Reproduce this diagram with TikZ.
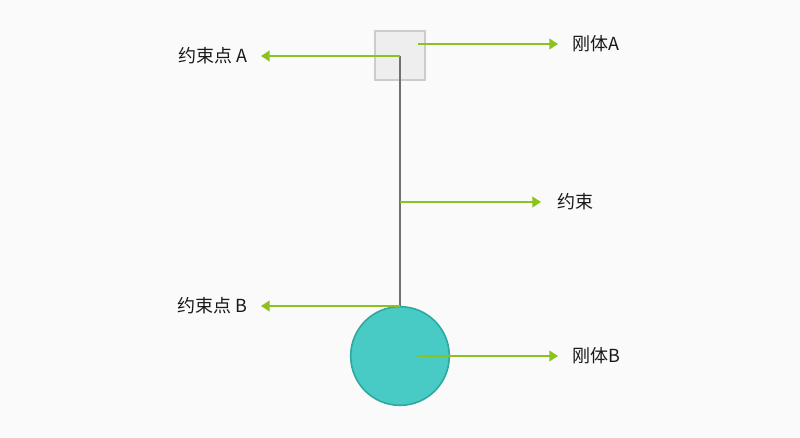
\documentclass[tikz,border=0pt]{standalone}
\usepackage{fontspec}
\setmainfont{Noto Sans CJK SC}
\usetikzlibrary{arrows.meta}
\definecolor{bgGray}{HTML}{FAFAFA}
\definecolor{boxFill}{HTML}{EEEEEE}
\definecolor{boxLine}{HTML}{CCCCCC}
\definecolor{rodGray}{HTML}{707070}
\definecolor{ballFill}{HTML}{48CBC4}
\definecolor{ballLine}{HTML}{2FA89F}
\definecolor{pointer}{HTML}{8CC21E}
\tikzset{
    pointer/.style={draw=pointer, line width=1.5pt, -{Triangle[length=6.5pt,width=8pt]}},
    tag/.style={font=\fontsize{13.5}{15}\selectfont, inner sep=0pt, text=black!90}
}
\begin{document}
\begin{tikzpicture}[x=0.75pt, y=-0.75pt]
        \fill[bgGray] (0,0) rectangle (800,438); % background
        \useasboundingbox (0,0) rectangle (800,438);

        \node (bodyA) [draw=boxLine, fill=boxFill, line width=1.5pt, minimum size=37pt, inner sep=0pt] at (400,55.5) {}; % rigid body A
        \node (bodyB) [circle, draw=ballLine, fill=ballFill, line width=1.2pt, minimum size=74pt, inner sep=0pt] at (400,356) {}; % rigid body B
        \coordinate (pinA) at (400,56);
        \coordinate (pinB) at (400,306);
        \coordinate (rodMid) at (400,202);
        \draw[rodGray, line width=1.6pt] (pinA) -- (pinB); % constraint

        \node (pinAText) [tag, anchor=east] at (248,56) {约束点 A};
        \node (bodyAText) [tag, anchor=west] at (572,44) {刚体A};
        \node (rodText) [tag, anchor=west] at (557,202) {约束};
        \node (pinBText) [tag, anchor=east] at (248,306) {约束点 B};
        \node (bodyBText) [tag, anchor=west] at (572,356) {刚体B};

        \draw[pointer] (pinA) -- (pinAText.east -| 261,0);
        \draw[pointer] (418,44) -- (bodyAText.west -| 558,0);
        \draw[pointer] (rodMid) -- (rodText.west -| 541,0);
        \draw[pointer] (pinB) -- (pinBText.east -| 261,0);
        \draw[pointer] (bodyB.center -| 418,0) -- (bodyBText.west -| 558,0);
        \end{tikzpicture}
\end{document}
